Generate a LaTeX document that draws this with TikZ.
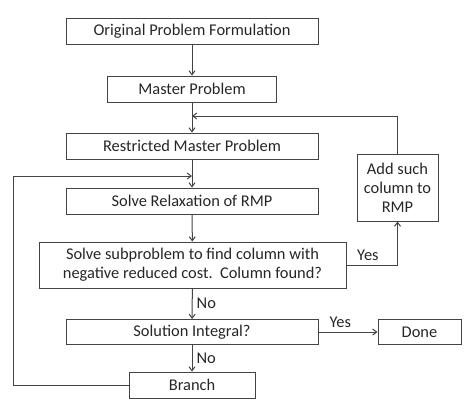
\documentclass[tikz,border=0pt]{standalone}
\usepackage{fontspec}
\setmainfont{Carlito}
\usetikzlibrary{arrows.meta, positioning, calc}

\definecolor{linegray}{HTML}{444444}
\definecolor{textgray}{HTML}{262626}

\begin{document}
\begin{tikzpicture}[x=1pt, y=-1pt, >={Straight Barb[length=4pt, width=6pt]},
    stepbox/.style={draw=linegray, line width=1pt, text=textgray, font=\fontsize{16.4}{19}\selectfont,
                    inner sep=1pt, align=center, minimum height=26pt},
    flow/.style={->, draw=linegray, line width=1pt},
    lbl/.style={text=textgray, font=\fontsize{16.4}{19}\selectfont, inner sep=1pt}]

    \useasboundingbox (0,0) rectangle (474,413);

    % --- Main column of boxes ---
    \node[stepbox, minimum width=252pt] (orig) at (192,31) {Original Problem Formulation};
    \node[stepbox, minimum width=169pt] (master) at (192,89) {Master Problem};
    \node[stepbox, minimum width=252pt] (rmp) at (192,146) {Restricted Master Problem};
    \node[stepbox, minimum width=252pt] (relax) at (192,201) {Solve Relaxation of RMP};
    \node[stepbox, minimum width=307pt, minimum height=46pt] (sub) at (192.5,265)
        {Solve subproblem to find column with\\negative reduced cost.~~Column found?};
    \node[stepbox, minimum width=252pt, minimum height=25pt] (integral) at (192,332) {Solution Integral?};
    \node[stepbox, minimum width=126pt] (branch) at (192,385) {Branch};

    % --- Side boxes ---
    \node[stepbox, minimum width=81pt, minimum height=67pt] (addcol) at (397.5,187.5)
        {Add such\\column to\\RMP};
    \node[stepbox, minimum width=83pt, minimum height=25pt] (done) at (419.5,332) {Done};

    % --- Junction points on the main line ---
    \coordinate (upper join) at (192,116);
    \coordinate (lower join) at (192,176);

    % --- Main flow ---
    \draw[flow] (orig) -- (master);
    \draw[flow] (master) -- (rmp);
    \draw[flow] (rmp) -- (relax);
    \draw[flow] (relax) -- (sub);
    \draw[flow] (sub) -- node[lbl, right=3pt] {No} (integral);
    \draw[flow] (integral) -- node[lbl, right=3pt] {No} (branch);

    % --- Column found: add it and go back ---
    \draw[flow] (sub.east) -| node[lbl, pos=0.21, above=3pt] {Yes} (addcol.south);
    \draw[flow] (addcol.north) |- (upper join);

    % --- Integral solution ---
    \draw[flow] (integral) -- node[lbl, pos=0.37, above=3pt] {Yes} (done);

    % --- Branch loop ---
    \draw[flow] (branch.west) -| (13,176) -- (lower join);

\end{tikzpicture}
\end{document}
